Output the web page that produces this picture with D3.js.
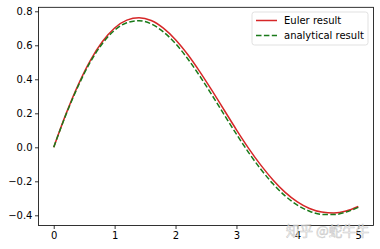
<!DOCTYPE html>
<html>
<head>
<meta charset="utf-8">
<script src="https://cdn.jsdelivr.net/npm/d3@7"></script>
<style>
  body { margin: 0; background: #fff; }
  text { font-family: "DejaVu Sans", sans-serif; }
</style>
</head>
<body>
<script>
// x values, step 0.2
const xs = [0, 0.2, 0.4, 0.6, 0.8, 1.0, 1.2, 1.4, 1.6, 1.8, 2.0, 2.2, 2.4,
  2.6, 2.8, 3.0, 3.2, 3.4, 3.6, 3.8, 4.0, 4.2, 4.4, 4.6, 4.8, 5.0]

const euler = [0, 0.195, 0.366, 0.510, 0.622, 0.702, 0.748, 0.762, 0.746,
  0.701, 0.633, 0.546, 0.444, 0.333, 0.218, 0.103, -0.006, -0.105, -0.192,
  -0.265, -0.321, -0.360, -0.381, -0.386, -0.375, -0.348]

const analytical = [0, 0.191, 0.359, 0.501, 0.611, 0.689, 0.733, 0.745, 0.726,
  0.679, 0.610, 0.521, 0.418, 0.306, 0.191, 0.077, -0.031, -0.129, -0.215,
  -0.286, -0.340, -0.376, -0.395, -0.396, -0.381, -0.353]

const xTicks = [0, 1, 2, 3, 4, 5]
const yTicks = [-0.4, -0.2, 0.0, 0.2, 0.4, 0.6, 0.8]

const w = 380
const h = 249
const mLeft = 38.5, mRight = 373.5, mTop = 7.3, mBottom = 225.5

const svg = d3.select("body")
  .append("svg")
  .attr("width", w)
  .attr("height", h)

const xScale = d3.scaleLinear()
  .domain([-0.25, 5.25])
  .range([mLeft, mRight])

const yScale = d3.scaleLinear()
  .domain([-0.46, 0.8235])
  .range([mBottom, mTop])

// axes
const xAxis = d3.axisBottom(xScale)
  .tickValues(xTicks)
  .tickFormat(d3.format("d"))
  .tickSize(3.5)
  .tickPadding(2.5)

const yAxis = d3.axisLeft(yScale)
  .tickValues(yTicks)
  .tickFormat(d => d3.format(".1f")(d).replace("-", "\u2212"))
  .tickSize(3.5)
  .tickPadding(2.5)

const gx = svg.append("g")
  .attr("transform", `translate(0,${mBottom})`)
  .call(xAxis)
const gy = svg.append("g")
  .attr("transform", `translate(${mLeft},0)`)
  .call(yAxis)

;[gx, gy].forEach(g => {
  g.select(".domain").remove()
  g.selectAll("line").attr("stroke", "#000").attr("stroke-width", 0.8)
  g.selectAll("text")
    .attr("fill", "#000")
    .style("font-family", "DejaVu Sans")
    .style("font-size", "10px")
})

// spines
svg.append("rect")
  .attr("x", mLeft)
  .attr("y", mTop)
  .attr("width", mRight - mLeft)
  .attr("height", mBottom - mTop)
  .attr("fill", "none")
  .attr("stroke", "#000")
  .attr("stroke-width", 0.8)

// lines
const line = (ys) => d3.line()
  .x((d, i) => xScale(xs[i]))
  .y((d, i) => yScale(ys[i]))
  .curve(d3.curveMonotoneX)(xs)

svg.append("path")
  .attr("d", line(euler))
  .attr("fill", "none")
  .attr("stroke", "#d62728")
  .attr("stroke-width", 1.5)

svg.append("path")
  .attr("d", line(analytical))
  .attr("fill", "none")
  .attr("stroke", "#1a7a1a")
  .attr("stroke-width", 1.5)
  .attr("stroke-dasharray", "5.5,2.4")

// legend
const lg = svg.append("g")
lg.append("rect")
  .attr("x", 252)
  .attr("y", 12)
  .attr("width", 116)
  .attr("height", 33)
  .attr("rx", 2.5)
  .attr("fill", "#fff")
  .attr("fill-opacity", 0.8)
  .attr("stroke", "#d9d9d9")
  .attr("stroke-width", 0.8)

const items = [
  { label: "Euler result", color: "#d62728", dash: null },
  { label: "analytical result", color: "#1a7a1a", dash: "5.5,2.4" }
]
items.forEach((it, i) => {
  const y = 20.5 + i * 15
  lg.append("line")
    .attr("x1", 256).attr("x2", 277)
    .attr("y1", y).attr("y2", y)
    .attr("stroke", it.color)
    .attr("stroke-width", 1.5)
    .attr("stroke-dasharray", it.dash)
  lg.append("text")
    .attr("x", 284)
    .attr("y", y + 3.6)
    .style("font-size", "10px")
    .attr("fill", "#000")
    .text(it.label)
})

// watermark (sits over the 4 and 5 tick labels, as in the source image)
svg.append("text")
  .attr("x", 286)
  .attr("y", 236)
  .style("font-family", "Noto Sans CJK SC")
  .style("font-size", "13.5px")
  .attr("fill", "#fff")
  .attr("fill-opacity", 0.6)
  .attr("stroke", "#bbb")
  .attr("stroke-width", 0.6)
  .attr("stroke-opacity", 0.8)
  .text("知乎 @蛇牛牛")
</script>
</body>
</html>
